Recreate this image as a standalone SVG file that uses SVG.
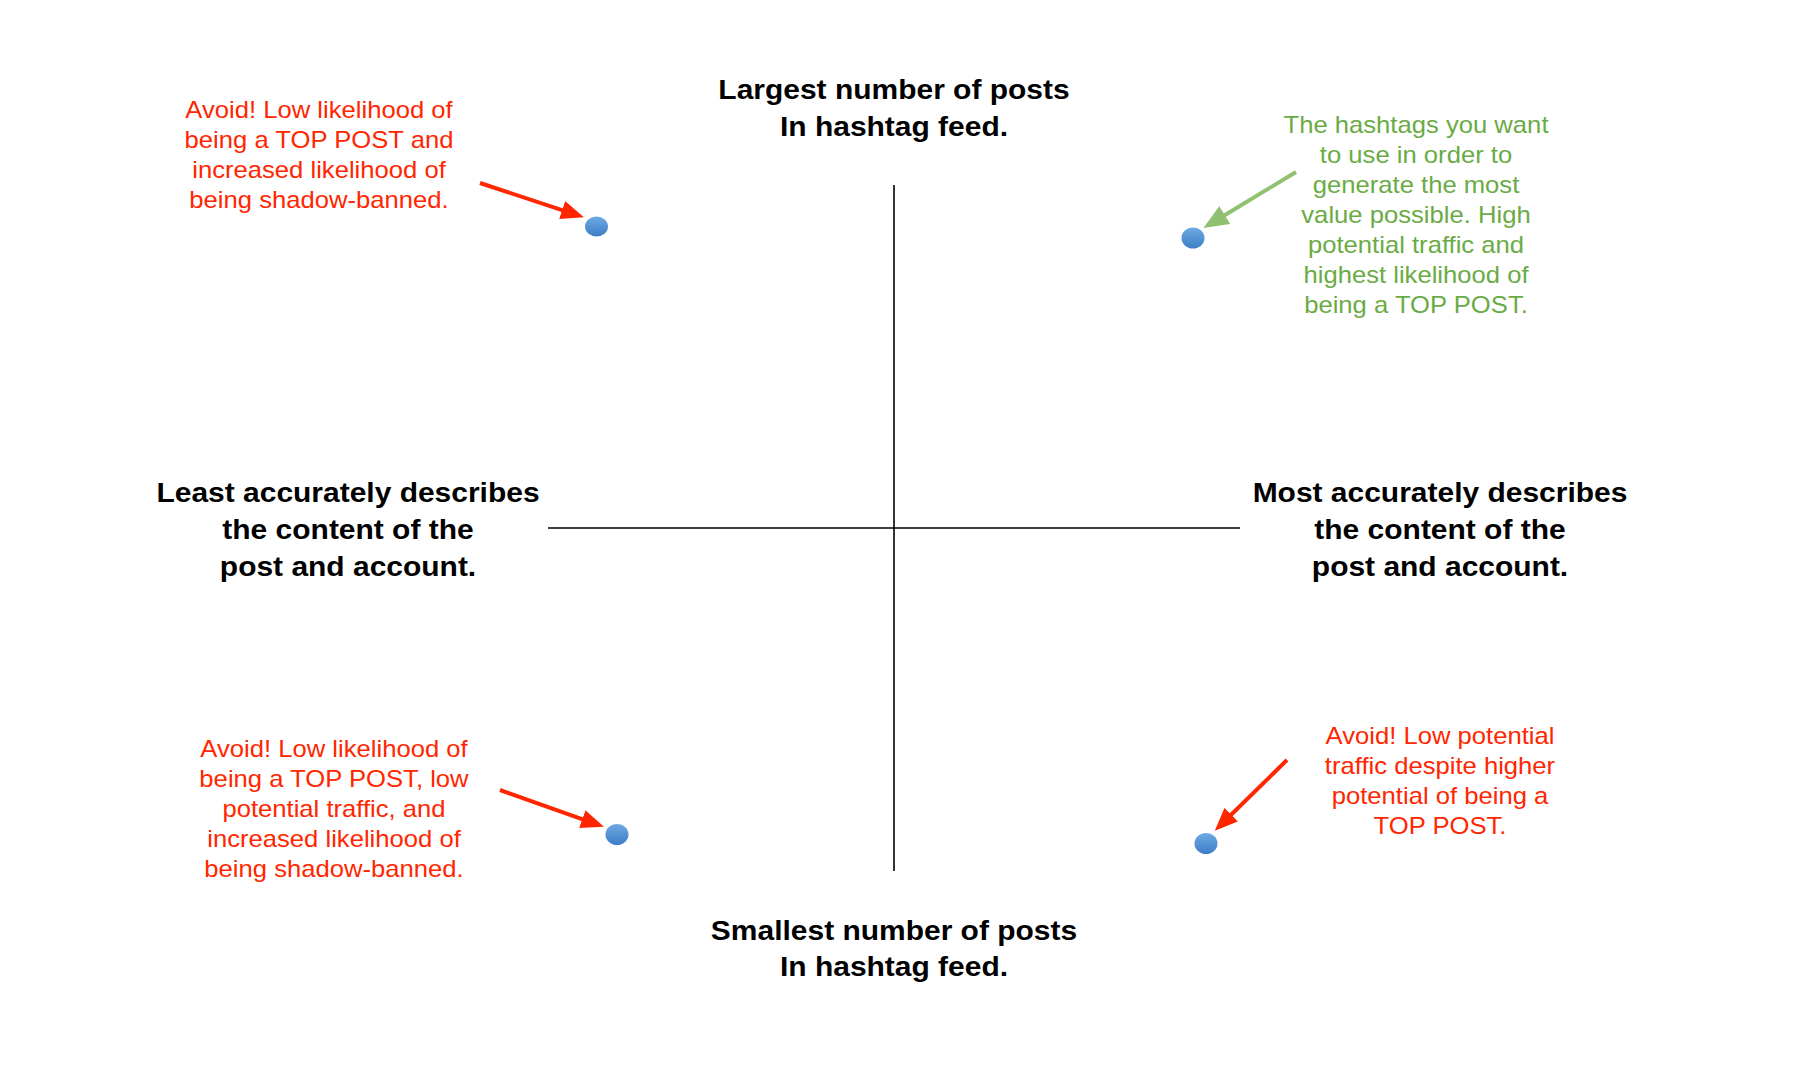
<svg xmlns="http://www.w3.org/2000/svg" width="1798" height="1072" viewBox="0 0 1798 1072">
<style>
.axis{font-family:"Liberation Sans",Arial,sans-serif;font-weight:bold;font-size:27px;fill:#000;text-anchor:middle}
.red{font-family:"Liberation Sans",Arial,sans-serif;font-size:23px;fill:#ff2600;text-anchor:middle}
.green{font-family:"Liberation Sans",Arial,sans-serif;font-size:23px;fill:#6aab45;text-anchor:middle}
.axline{stroke:#000;stroke-width:1.6;fill:none}
.dot{fill:url(#blue)}
.ar{stroke:#ff2600;stroke-width:4;fill:none}
.ag{stroke:#8fc170;stroke-width:4;fill:none}
</style>
<defs>
<linearGradient id="blue" x1="0" y1="0" x2="0" y2="1">
<stop offset="0" stop-color="#6eaae3"/>
<stop offset="1" stop-color="#3c7dc6"/>
</linearGradient>
<marker id="hr" markerUnits="userSpaceOnUse" markerWidth="24" markerHeight="20" refX="8" refY="9.5" orient="auto">
<path d="M0,0 L23,9.5 L0,19 Z" fill="#ff2600"/>
</marker>
<marker id="hg" markerUnits="userSpaceOnUse" markerWidth="26" markerHeight="22" refX="8" refY="10.5" orient="auto">
<path d="M0,0 L25,10.5 L0,21 Z" fill="#8fc170"/>
</marker>
</defs>
<rect width="1798" height="1072" fill="#fff"/>
<g id="axes">
<line class="axline" x1="894" y1="185" x2="894" y2="871"/>
<line class="axline" x1="548" y1="528" x2="1240" y2="528"/>
</g>
<g id="label-top" transform="translate(894 0) scale(1.11 1)">
<text class="axis" x="0" y="99.5">Largest number of posts</text>
<text class="axis" x="0" y="136">In hashtag feed.</text>
</g>
<g id="label-bottom" transform="translate(894 0) scale(1.11 1)">
<text class="axis" x="0" y="940">Smallest number of posts</text>
<text class="axis" x="0" y="976.5">In hashtag feed.</text>
</g>
<g id="label-left" transform="translate(348 0) scale(1.11 1)">
<text class="axis" x="0" y="502">Least accurately describes</text>
<text class="axis" x="0" y="539">the content of the</text>
<text class="axis" x="0" y="576">post and account.</text>
</g>
<g id="label-right" transform="translate(1440 0) scale(1.11 1)">
<text class="axis" x="0" y="502">Most accurately describes</text>
<text class="axis" x="0" y="539">the content of the</text>
<text class="axis" x="0" y="576">post and account.</text>
</g>
<g id="note-tl" transform="translate(319 0) scale(1.115 1)">
<text class="red" x="0" y="118.5">Avoid! Low likelihood of</text>
<text class="red" x="0" y="148.5">being a TOP POST and</text>
<text class="red" x="0" y="178.5">increased likelihood of</text>
<text class="red" x="0" y="208.5">being shadow-banned.</text>
</g>
<g id="note-tr" transform="translate(1416 0) scale(1.115 1)">
<text class="green" x="0" y="133">The hashtags you want</text>
<text class="green" x="0" y="163">to use in order to</text>
<text class="green" x="0" y="193">generate the most</text>
<text class="green" x="0" y="223">value possible. High</text>
<text class="green" x="0" y="253">potential traffic and</text>
<text class="green" x="0" y="283">highest likelihood of</text>
<text class="green" x="0" y="313">being a TOP POST.</text>
</g>
<g id="note-bl" transform="translate(334 0) scale(1.115 1)">
<text class="red" x="0" y="757.5">Avoid! Low likelihood of</text>
<text class="red" x="0" y="787.5">being a TOP POST, low</text>
<text class="red" x="0" y="817.5">potential traffic, and</text>
<text class="red" x="0" y="847.5">increased likelihood of</text>
<text class="red" x="0" y="877.5">being shadow-banned.</text>
</g>
<g id="note-br" transform="translate(1440 0) scale(1.115 1)">
<text class="red" x="0" y="744.5">Avoid! Low potential</text>
<text class="red" x="0" y="774.2">traffic despite higher</text>
<text class="red" x="0" y="803.9">potential of being a</text>
<text class="red" x="0" y="833.6">TOP POST.</text>
</g>
<g id="dot-tl"><ellipse class="dot" cx="596.5" cy="226.5" rx="11.5" ry="10"/></g>
<g id="dot-tr"><ellipse class="dot" cx="1193" cy="238" rx="11.5" ry="10.5"/></g>
<g id="dot-bl"><ellipse class="dot" cx="617" cy="834.5" rx="11.5" ry="10.5"/></g>
<g id="dot-br"><ellipse class="dot" cx="1206" cy="843.5" rx="11.5" ry="10.5"/></g>
<g id="connectors">
<line class="ar" x1="480" y1="183" x2="569.7" y2="212.6" marker-end="url(#hr)"/>
<line class="ag" x1="1296" y1="172" x2="1218" y2="219.2" marker-end="url(#hg)"/>
<line class="ar" x1="500" y1="790" x2="589.8" y2="821.8" marker-end="url(#hr)"/>
<line class="ar" x1="1287" y1="760" x2="1225.5" y2="820.2" marker-end="url(#hr)"/>
</g>
</svg>
